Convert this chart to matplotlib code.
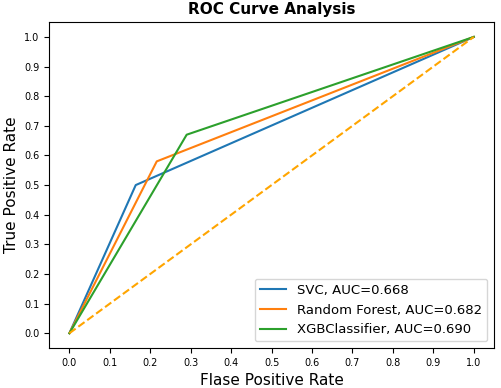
import numpy as np
import matplotlib.pyplot as plt

labels = ["SVC", "Random Forest", "XGBClassifier"]
fpr = [[0.0, 0.164, 1.0], [0.0, 0.216, 1.0], [0.0, 0.29, 1.0]]
tpr = [[0.0, 0.50, 1.0], [0.0, 0.58, 1.0], [0.0, 0.67, 1.0]]
auc = [0.668, 0.682, 0.690]

fig = plt.figure(figsize=(5.02, 3.88), dpi=100)
ax = fig.add_axes([0.098, 0.103, 0.886, 0.840])

for f, t, name, a in zip(fpr, tpr, labels, auc):
    ax.plot(f, t, label="{}, AUC={:.3f}".format(name, a))

ax.plot([0, 1], [0, 1], color='orange', linestyle='--')

ax.set_xticks(np.arange(0.0, 1.1, step=0.1))
ax.set_yticks(np.arange(0.0, 1.1, step=0.1))
ax.tick_params(labelsize=7)
ax.set_xlabel("Flase Positive Rate", fontsize=11)
ax.set_ylabel("True Positive Rate", fontsize=11)
ax.set_title("ROC Curve Analysis", fontweight='bold', fontsize=11)
ax.legend(prop={'size': 9.5}, loc='lower right')

fig.savefig("out.png", dpi=100)
